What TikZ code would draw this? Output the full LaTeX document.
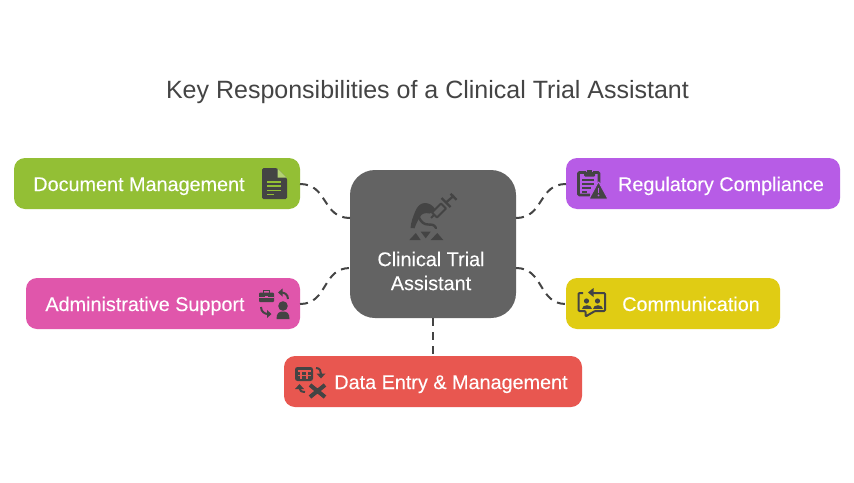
\documentclass[tikz,border=0pt]{standalone}
\usepackage{fontspec}
\setmainfont{Liberation Sans}
\usetikzlibrary{arrows.meta}
\definecolor{ink}{HTML}{444444}
\definecolor{cgreen}{HTML}{93BF35}
\definecolor{cpurple}{HTML}{B75CE6}
\definecolor{cpink}{HTML}{E056AB}
\definecolor{cyellow}{HTML}{E0CC14}
\definecolor{cred}{HTML}{E85750}
\definecolor{cgray}{HTML}{636363}
\newcommand{\labfont}{\fontsize{19.8}{24}\selectfont\addfontfeature{FakeBold=0.12}}
\tikzset{
  x=1pt,y=-1pt,
  card/.style={draw=none,rounded corners=11pt,minimum height=51pt,inner sep=0pt,outer sep=0pt,anchor=north west},
  hub/.style={draw=none,fill=cgray,rounded corners=25pt,minimum width=166pt,minimum height=148pt,inner sep=0pt,outer sep=0pt,anchor=north west},
  lab/.style={text=white,font=\labfont,inner sep=0pt,anchor=base},
  link/.style={draw=ink,line width=2pt,dash pattern=on 8pt off 6pt}
}
\begin{document}
\begin{tikzpicture}
\useasboundingbox (0,0) rectangle (854,482);
\fill[white] (0,0) rectangle (854,482);
\node[text=ink,font=\fontsize{25}{29}\selectfont,inner sep=0pt] (title) at (427.5,92) {Key Responsibilities of a Clinical Trial Assistant};

\node[hub] (center) at (350,170) {};
\node[card,fill=cgreen,minimum width=286pt] (doc) at (14,158) {};
\node[card,fill=cpurple,minimum width=274pt] (reg) at (566,158) {};
\node[card,fill=cpink,minimum width=274pt] (adm) at (26,278) {};
\node[card,fill=cyellow,minimum width=214pt] (com) at (566,278) {};
\node[card,fill=cred,minimum width=298pt] (dat) at (284,356) {};

\node[lab] (doclab) at (139,191) {Document Management};
\node[lab] (reglab) at (721,191) {Regulatory Compliance};
\node[lab] (admlab) at (145,311) {Administrative Support};
\node[lab] (comlab) at (691,311) {Communication};
\node[lab] (datlab) at (451,389) {Data Entry \& Management};
\node[lab,anchor=center,align=center,font=\labfont\fontsize{19.8}{24}\selectfont] (cenlab) at (431,271) {Clinical Trial\\Assistant};

\coordinate (cl1) at (350,218);
\coordinate (cl2) at (350,268);
\coordinate (cr1) at (516,218);
\coordinate (cr2) at (516,268);
\coordinate (cb) at (433,318);
\coordinate (docp) at (300,184);
\coordinate (admp) at (300,304);
\coordinate (regp) at (566,184);
\coordinate (comp) at (566,304);
\coordinate (datp) at (433,356);
\path[link] (docp) .. controls (328,184) and (322,218) .. (cl1);
\path[link] (admp) .. controls (328,304) and (322,268) .. (cl2);
\path[link] (cr1) .. controls (544,218) and (538,184) .. (regp);
\path[link] (cr2) .. controls (544,268) and (538,304) .. (comp);
\path[link] (cb) -- (datp);

% document icon
\fill[ink,rounded corners=1.5pt] (262,168) -- (277,168) -- (287,178) -- (287,199) -- (262,199) -- cycle;
\fill[cgreen!70!white] (277.5,168.5) -- (286.5,177.5) -- (277.5,177.5) -- cycle;
\foreach \yy/\xe in {182/281,186/281,190.5/281,194.5/274}
  \draw[cgreen,line width=1.7pt] (267,\yy) -- (\xe,\yy);

% admin icon
\fill[ink,rounded corners=1pt] (259,292.5) rectangle (274,302);
\draw[ink,line width=1.6pt] (263.5,293) -- (263.5,290.5) -- (269.5,290.5) -- (269.5,293);
\draw[cpink,line width=1pt] (259,297) -- (274,297);
\fill[cpink] (265.3,295.8) rectangle (267.7,298.2);
\draw[ink,line width=2pt] (288,299) .. controls (288,294) and (284,292.5) .. (281,292.5);
\fill[ink] (278,292.5) -- (282.5,288.5) -- (282.5,296.5) -- cycle;
\draw[ink,line width=2pt] (261,307) .. controls (261,312) and (265,314) .. (268,314);
\fill[ink] (271.5,314) -- (267,310) -- (267,318) -- cycle;
\fill[ink] (283,306) circle (4.8);
\fill[ink] (276.5,319) .. controls (276.5,313) and (279,311.5) .. (283,311.5) .. controls (287,311.5) and (289.5,313) .. (289.5,319) -- cycle;

% regulatory icon
\draw[ink,line width=2.6pt,rounded corners=1pt] (586,172.5) -- (578.5,172.5) -- (578.5,195) -- (590,195);
\draw[ink,line width=2.6pt,rounded corners=1pt] (593,172.5) -- (599,172.5) -- (599,183);
\fill[ink,rounded corners=1pt] (584,172) rectangle (595,176.5);
\fill[ink] (587,170) rectangle (592,173);
\foreach \yy/\xe in {180/594,184/594,188/591,192/587}
  \draw[ink,line width=1.6pt] (582,\yy) -- (\xe,\yy);
\fill[ink,rounded corners=.8pt,draw=cpurple,line width=1pt] (598.5,181.5) -- (608,199) -- (589,199) -- cycle;
\draw[cpurple,line width=1.5pt] (598.5,187.5) -- (598.5,192.5);
\fill[cpurple] (598.5,195.3) circle (1);

% communication icon
\draw[ink,line width=2pt,line join=round,rounded corners=1pt] (591,293) -- (605,293) -- (605,311) -- (595,311) -- (585.5,316.5) -- (585.5,311) -- (578.5,311) -- (578.5,293) -- (583,293);
\fill[ink] (588,292.5) -- (593.5,288) -- (593.5,297) -- cycle;
\fill[ink] (586.5,301) circle (2.6);
\fill[ink] (597.5,301) circle (2.6);
\fill[ink] (581.5,308.5) .. controls (581.5,304) and (591.5,304) .. (591.5,308.5) -- cycle;
\fill[ink] (592.5,308.5) .. controls (592.5,304) and (602.5,304) .. (602.5,308.5) -- cycle;

% data icon
\fill[ink,rounded corners=2.5pt] (295,367) rectangle (313,381);
\foreach \xx in {301,307} \draw[cred,line width=1.2pt] (\xx,371) -- (\xx,379);
\foreach \yy in {371,375.5} \draw[cred,line width=1.2pt] (297.5,\yy) -- (311,\yy);
\draw[ink,line width=2pt] (316,368) .. controls (320,368) and (321,371) .. (321,374);
\fill[ink] (321,378.5) -- (316.5,373.5) -- (325.5,373.5) -- cycle;
\draw[ink,line width=2pt] (305,392) .. controls (301,392) and (299.5,390) .. (299.5,388);
\fill[ink] (299.5,384) -- (295,389) -- (304,389) -- cycle;
\draw[ink,line width=4pt] (310,385) -- (325,397) (325,385) -- (310,397);

% hub icon
\fill[ink] (410.5,228) .. controls (411,222) and (413,217) .. (415,212)
  .. controls (417,206) and (421,203) .. (425,203)
  .. controls (429,203) and (433,205.5) .. (435,209)
  .. controls (433,212) and (431.5,213.5) .. (429.5,213.5)
  .. controls (425,212.5) and (421.5,213.5) .. (420,217)
  .. controls (418,220) and (416,224) .. (414.5,228.3) -- cycle;
\draw[ink,line width=2.4pt,line cap=round] (419,217.5) .. controls (421,222) and (424,224.5) .. (428,224.5)
  .. controls (431,224.5) and (434,224) .. (436,228);
\draw[ink,line width=2pt,line join=round] (432,212.5) -- (441,203.5) -- (446,208.5) -- (437,217.5) -- cycle;
\draw[ink,line width=2pt] (431,218) -- (434,215);
\draw[ink,line width=2.2pt] (441.5,198) -- (450.5,207);
\draw[ink,line width=2.2pt] (446,202.5) -- (454,195.5);
\draw[ink,line width=2.4pt] (450.5,193.8) -- (456.5,199.8);
\fill[ink] (409.3,240) -- (415.8,233) -- (420.7,240) -- cycle;
\fill[ink] (420.7,231.7) -- (430.7,231.7) -- (425.7,238.3) -- cycle;
\fill[ink] (430.7,240) -- (437.3,233) -- (443.3,240) -- cycle;
\end{tikzpicture}
\end{document}
